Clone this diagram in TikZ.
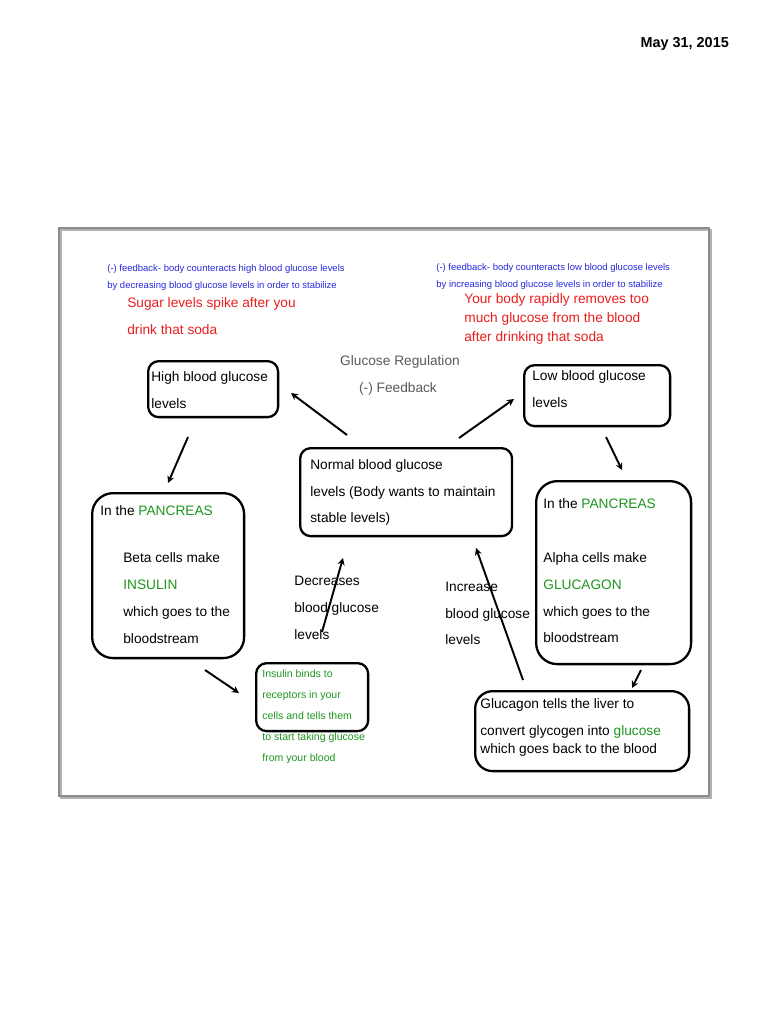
\documentclass[tikz,border=0pt]{standalone}
\usepackage{fontspec}
\setmainfont{Liberation Sans}
\usetikzlibrary{positioning, arrows.meta}
\definecolor{gblue}{RGB}{40,40,220}
\definecolor{gred}{RGB}{235,30,30}
\definecolor{ggreen}{RGB}{30,150,30}
\definecolor{ggray}{RGB}{90,90,90}
\begin{document}
\begin{tikzpicture}[x=0.02cm, y=-0.02cm]
\tikzset{
  box/.style={draw=black, line width=1.3pt, rounded corners=6pt, anchor=north west, inner sep=0pt},
  txt/.style={anchor=base west, inner sep=0pt, font=\fontsize{7.8}{9}\selectfont},
  tiny/.style={anchor=base west, inner sep=0pt, font=\fontsize{5.4}{6}\selectfont, text=gblue},
  small/.style={anchor=base west, inner sep=0pt, font=\fontsize{6}{7}\selectfont, text=ggreen},
  arrow/.style={line width=1.1pt, -{Stealth[length=4pt,width=4pt]}}
}
\useasboundingbox (0,0) rectangle (768,1024);
\fill[white] (0,0) rectangle (768,1024);

\node[anchor=base east, font=\bfseries\fontsize{8.2}{10}\selectfont] (date) at (735,48) {May 31, 2015};

% frame
\draw[gray!60, line width=1.5pt] (61,230) rectangle (711,798);
\draw[gray!90, line width=0.8pt] (59,228) rectangle (709,796);

% notes at the top
\node[tiny] (fbl1) at (107,271) {(-) feedback- body counteracts high blood glucose levels};
\node[tiny] (fbl2) at (107,288) {by decreasing blood glucose levels in order to stabilize};
\node[tiny] (fbr1) at (436,270) {(-) feedback- body counteracts low blood glucose levels};
\node[tiny] (fbr2) at (436,287) {by increasing blood glucose levels in order to stabilize};
\node[txt, text=gred] (sug1) at (127,307) {Sugar levels spike after you};
\node[txt, text=gred] (sug2) at (127,334) {drink that soda};
\node[txt, text=gred] (rem1) at (464,303) {Your body rapidly removes too};
\node[txt, text=gred] (rem2) at (464,322) {much glucose from the blood};
\node[txt, text=gred] (rem3) at (464,341) {after drinking that soda};
\node[txt, text=ggray, anchor=base] (title1) at (400,365) {Glucose Regulation};
\node[txt, text=ggray, anchor=base] (title2) at (398,392) {(-) Feedback};

% boxes
\node[box, minimum width=2.6cm, minimum height=1.12cm] (high) at (147,360) {};
\node[box, minimum width=2.92cm, minimum height=1.22cm] (low) at (523,364) {};
\node[box, minimum width=4.24cm, minimum height=1.76cm] (normal) at (299,447) {};
\node[box, minimum width=3.04cm, minimum height=3.3cm, rounded corners=12pt] (betabox) at (91,492) {};
\node[box, minimum width=3.1cm, minimum height=3.66cm, rounded corners=12pt] (alphabox) at (535,480) {};
\node[box, minimum width=2.24cm, minimum height=1.36cm] (insulin) at (255,662) {};
\node[box, minimum width=4.28cm, minimum height=1.6cm, rounded corners=10pt] (liver) at (474,690) {};

% box texts
\node[txt] (h1) at (151,381) {High blood glucose};
\node[txt] (h2) at (151,408) {levels};
\node[txt] (l1) at (532,380) {Low blood glucose};
\node[txt] (l2) at (532,407) {levels};
\node[txt] (n1) at (310,469) {Normal blood glucose};
\node[txt] (n2) at (310,496) {levels (Body wants to maintain};
\node[txt] (n3) at (310,522) {stable levels)};
\node[txt] (b1) at (100,515) {In the \textcolor{ggreen}{PANCREAS}};
\node[txt] (b2) at (123,562) {Beta cells make};
\node[txt, text=ggreen] (b3) at (123,589) {INSULIN};
\node[txt] (b4) at (123,616) {which goes to the};
\node[txt] (b5) at (123,643) {bloodstream};
\node[txt] (a1) at (543,508) {In the \textcolor{ggreen}{PANCREAS}};
\node[txt] (a2) at (543,562) {Alpha cells make};
\node[txt, text=ggreen] (a3) at (543,589) {GLUCAGON};
\node[txt] (a4) at (543,616) {which goes to the};
\node[txt] (a5) at (543,642) {bloodstream};
\node[small] (i1) at (262,677) {Insulin binds to};
\node[small] (i2) at (262,698) {receptors in your};
\node[small] (i3) at (262,719) {cells and tells them};
\node[small] (i4) at (262,740) {to start taking glucose};
\node[small] (i5) at (262,761) {from your blood};
\node[txt] (g1) at (480,708) {Glucagon tells the liver to};
\node[txt] (g2) at (480,735) {convert glycogen into \textcolor{ggreen}{glucose}};
\node[txt] (g3) at (480,753) {which goes back to the blood};
\node[txt] (d1) at (294,585) {Decreases};
\node[txt] (d2) at (294,612) {blood glucose};
\node[txt] (d3) at (294,639) {levels};
\node[txt] (c1) at (445,591) {Increase};
\node[txt] (c2) at (445,618) {blood glucose};
\node[txt] (c3) at (445,644) {levels};

% arrow ends
\coordinate (nl) at (347,435); \coordinate (hi) at (291,393);
\coordinate (nr) at (459,438); \coordinate (lo) at (514,399);
\coordinate (hb) at (188,437); \coordinate (bt) at (168,483);
\coordinate (lb) at (606,437); \coordinate (at) at (622,470);
\coordinate (bb) at (205,670); \coordinate (it) at (239,693);
\coordinate (ab) at (641,670); \coordinate (gt) at (632,688);
\coordinate (ds) at (322,632); \coordinate (de) at (343,558);
\coordinate (cs) at (523,680); \coordinate (ce) at (476,548);

\draw[arrow] (nl) -- (hi);
\draw[arrow] (nr) -- (lo);
\draw[arrow] (hb) -- (bt);
\draw[arrow] (lb) -- (at);
\draw[arrow] (bb) -- (it);
\draw[arrow] (ab) -- (gt);
\draw[arrow] (ds) -- (de);
\draw[arrow] (cs) -- (ce);
\end{tikzpicture}
\end{document}
